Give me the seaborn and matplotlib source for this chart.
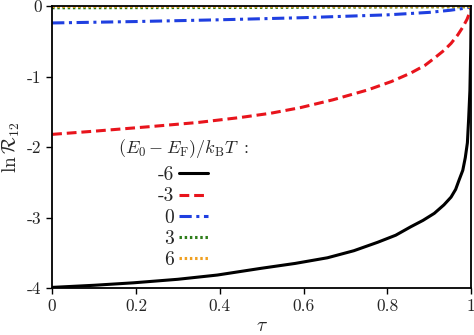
import numpy as np
import pandas as pd
import seaborn as sns
import matplotlib
matplotlib.use("Agg")
import matplotlib.pyplot as plt

# ---- data ----
tau_m6 = [0.0, 0.1, 0.194, 0.3, 0.394, 0.498, 0.58, 0.657, 0.72, 0.777, 0.82, 0.856,
          0.885, 0.912, 0.935, 0.952, 0.963, 0.971, 0.98, 0.986, 0.991, 0.994, 0.997, 0.999, 1.0]
val_m6 = [-3.99, -3.96, -3.925, -3.875, -3.815, -3.72, -3.65, -3.57, -3.47, -3.35, -3.25, -3.13,
          -3.04, -2.94, -2.82, -2.71, -2.60, -2.47, -2.33, -2.15, -1.94, -1.6, -1.2, -0.6, 0.0]

tau_m3 = [0.0, 0.1, 0.234, 0.35, 0.45, 0.522, 0.593, 0.67, 0.753, 0.81, 0.856, 0.89,
          0.912, 0.935, 0.952, 0.968, 0.98, 0.99, 0.996, 1.0]
val_m3 = [-1.82, -1.775, -1.71, -1.65, -1.58, -1.52, -1.44, -1.33, -1.19, -1.07, -0.95, -0.84,
          -0.74, -0.63, -0.53, -0.41, -0.30, -0.19, -0.10, -0.02]

tau_0 = [0.0, 0.2, 0.4, 0.6, 0.8, 0.9, 0.95, 0.98, 1.0]
val_0 = [-0.24, -0.22, -0.195, -0.165, -0.125, -0.09, -0.06, -0.035, -0.01]

tau_3 = [0.0, 0.5, 1.0]
val_3 = [-0.025, -0.02, -0.01]

tau_6 = [0.0, 0.5, 1.0]
val_6 = [-0.006, -0.005, -0.003]

labels = ["-6", "-3", "0", "3", "6"]
colors = ["black", "#e8141c", "#1f3fe0", "#2e7d1a", "#f0a020"]
styles = ["-", (0, (3.2, 1.6)), (0, (4, 1.5, 1, 1.5)), (0, (0.8, 0.9)), (0, (0.8, 0.9))]
legend_title = r"$(E_0-E_\mathrm{F})/k_\mathrm{B}T\ :$"

xticks = [0, 0.2, 0.4, 0.6, 0.8, 1]
xticklabels = ["0", "0.2", "0.4", "0.6", "0.8", "1"]
yticks = [-4, -3, -2, -1, 0]
yticklabels = ["-4", "-3", "-2", "-1", "0"]

frames = []
for lab, t, v in zip(labels, [tau_m6, tau_m3, tau_0, tau_3, tau_6],
                     [val_m6, val_m3, val_0, val_3, val_6]):
    frames.append(pd.DataFrame({"tau": t, "val": v, "E": lab}))
df = pd.concat(frames, ignore_index=True)

sns.set_style("ticks")
plt.rcParams["font.family"] = ["cmr10", "DejaVu Serif"]
plt.rcParams["mathtext.fontset"] = "cm"
plt.rcParams["axes.unicode_minus"] = False
plt.rcParams["axes.formatter.use_mathtext"] = True

fig = plt.figure(figsize=(4.74, 3.35), dpi=100)
ax = fig.add_axes([0.110, 0.140, 0.884, 0.842])

for lab, col, ls in zip(labels, colors, styles):
    sub = df[df["E"] == lab]
    sns.lineplot(data=sub, x="tau", y="val", ax=ax, color=col, linestyle=ls,
                 linewidth=2.2, label=lab, sort=False, estimator=None)

ax.set_xlim(0, 1)
ax.set_ylim(-4, 0)
ax.set_xticks(xticks)
ax.set_xticklabels(xticklabels)
ax.set_yticks(yticks)
ax.set_yticklabels(yticklabels)
ax.tick_params(labelsize=12.5, direction="out", length=4, width=1, color="black")
for s in ax.spines.values():
    s.set_visible(True)
    s.set_color("black")
    s.set_linewidth(1.3)

ax.set_xlabel(r"$\tau$", fontsize=14, labelpad=2)
ax.set_ylabel(r"$\ln\mathcal{R}_{12}$", fontsize=14, labelpad=4)

leg = ax.legend(loc="upper right", bbox_to_anchor=(0.373, 0.432), frameon=False,
                markerfirst=False, fontsize=14, handlelength=1.5,
                handletextpad=0.25, labelspacing=0.17, borderpad=0, borderaxespad=0)
ax.text(0.158, 0.479, legend_title, transform=ax.transAxes, fontsize=13,
        ha="left", va="baseline")

fig.savefig("out.png", dpi=100)
